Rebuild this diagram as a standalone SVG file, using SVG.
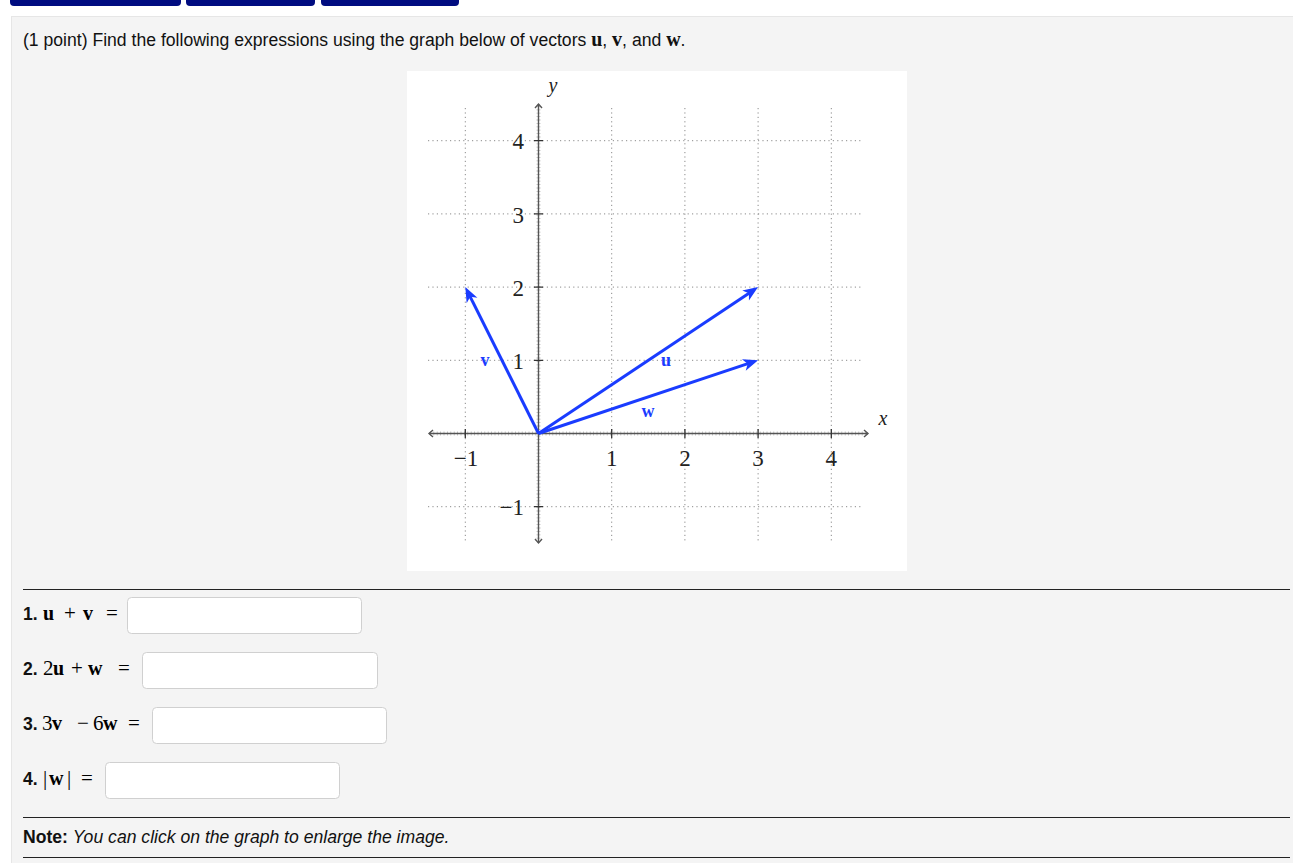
<svg xmlns="http://www.w3.org/2000/svg" width="1293" height="863" viewBox="0 0 1293 863">
<style>
.sans{font-family:"Liberation Sans",Arial,sans-serif;font-size:17.6px;fill:#111}
.b{font-weight:bold}
.mb{font-family:"Liberation Serif","Times New Roman",serif;font-weight:bold;font-size:20px}
.m{font-family:"Liberation Serif","Times New Roman",serif;font-size:21px}
.tick{font-family:"Liberation Serif","Times New Roman",serif;font-size:23px;fill:#222}
.grid{stroke:#8a8a8a;stroke-width:1;stroke-dasharray:1.2 3.2;fill:none}
.axis{stroke:#555;stroke-width:1.4;fill:none}
.axisx{stroke:#888;stroke-width:4;stroke-dasharray:0.8 2.6;fill:none;opacity:0.6}
.tk{stroke:#333;stroke-width:1.3}
.vec{stroke:#1a3cff;stroke-width:3;fill:none;marker-end:url(#ah)}
.vl{font-family:"Liberation Serif","Times New Roman",serif;font-weight:bold;font-size:18px;fill:#1a3cff;text-anchor:middle}
.box{fill:#fff;stroke:#d0d0d0;stroke-width:1}
.rule{stroke:#222;stroke-width:1}
</style>
<defs>
<marker id="ah" viewBox="-10 -7 17 14" refX="0" refY="0" markerWidth="17" markerHeight="14" markerUnits="userSpaceOnUse" orient="auto">
<path d="M6,0 L-9,-6 L-5,0 L-9,6 Z" fill="#1a3cff"/>
</marker>
</defs>
<rect x="0" y="0" width="1293" height="863" fill="#fff"/>
<g id="tabs" fill="#000c80">
<rect x="10" y="-6" width="171" height="12" rx="4"/>
<rect x="186" y="-6" width="129" height="12" rx="4"/>
<rect x="321" y="-6" width="138" height="12" rx="4"/>
</g>
<rect id="panel" x="11.5" y="16.5" width="1290" height="860" fill="#f4f4f4" stroke="#e6e6e6"/>
<text id="header" class="sans" x="23" y="46">(1 point) Find the following expressions using the graph below of vectors <tspan class="mb" font-size="19.5">u</tspan>, <tspan class="mb" font-size="19.5">v</tspan>, and <tspan class="mb" font-size="19.5">w</tspan>.</text>
<g id="graph">
<rect x="407" y="71" width="500" height="500" fill="#fff"/>
<g id="grid">
<path class="grid" d="M428,140.7H863M428,213.9H863M428,287.1H863M428,360.3H863M428,506.7H863"/>
<path class="grid" d="M465.3,108V543M611.7,108V543M684.9,108V543M758.1,108V543M831.3,108V543"/>
</g>
<g id="axes">
<path class="axisx" d="M430,433.5H866M538.5,106V541"/>
<path class="axis" d="M429,433.5H868M538.5,104V543"/>
<path class="axis" d="M433,430L429,433.5L433,437M864,430L868,433.5L864,437M535,108L538.5,104L542,108M535,539L538.5,543L542,539"/>
<path class="tk" d="M465.3,429V438M611.7,429V438M684.9,429V438M758.1,429V438M831.3,429V438M534,140.7H543M534,213.9H543M534,287.1H543M534,360.3H543M534,506.7H543"/>
</g>
<g id="ticklabels" class="tick">
<text x="466" y="465.5" text-anchor="middle">−1</text>
<text x="611.7" y="465.5" text-anchor="middle">1</text>
<text x="684.9" y="465.5" text-anchor="middle">2</text>
<text x="758.1" y="465.5" text-anchor="middle">3</text>
<text x="831.3" y="465.5" text-anchor="middle">4</text>
<text x="524" y="149" text-anchor="end">4</text>
<text x="524" y="222.5" text-anchor="end">3</text>
<text x="524" y="295.5" text-anchor="end">2</text>
<text x="524" y="369" text-anchor="end">1</text>
<text x="524" y="515" text-anchor="end">−1</text>
<text x="553" y="92" text-anchor="middle" font-style="italic" font-size="20">y</text>
<text x="883" y="425" text-anchor="middle" font-style="italic" font-size="20">x</text>
</g>
<g id="vectors">
<line id="u" class="vec" x1="538.5" y1="433.5" x2="753.1" y2="290.4"/>
<line id="v" class="vec" x1="538.5" y1="433.5" x2="468" y2="292.4"/>
<line id="w" class="vec" x1="538.5" y1="433.5" x2="752.4" y2="362.2"/>
</g>
<g id="veclabels">
<text class="vl" x="485" y="366">v</text>
<text class="vl" x="666" y="366">u</text>
<text class="vl" x="648" y="417">w</text>
</g>
</g>
<line class="rule" x1="23" y1="589.5" x2="1290" y2="589.5"/>
<g id="q1">
<text class="sans b" x="23" y="620">1.</text>
<text class="mb" x="43" y="620">u</text><text class="m" x="64" y="620">+</text><text class="mb" x="83" y="620">v</text><text class="m" x="106" y="620">=</text>
<rect class="box" x="127.5" y="597.5" width="234" height="36" rx="4"/>
</g>
<g id="q2">
<text class="sans b" x="23" y="675">2.</text>
<text class="m" x="43" y="675">2</text><text class="mb" x="53" y="675">u</text><text class="m" x="71" y="675">+</text><text class="mb" x="88" y="675">w</text><text class="m" x="118" y="675">=</text>
<rect class="box" x="142.5" y="652.5" width="235" height="36" rx="4"/>
</g>
<g id="q3">
<text class="sans b" x="23" y="730">3.</text>
<text class="m" x="42" y="730">3</text><text class="mb" x="52" y="730">v</text><text class="m" x="77" y="730">−</text><text class="m" x="93" y="730">6</text><text class="mb" x="103" y="730">w</text><text class="m" x="128" y="730">=</text>
<rect class="box" x="152.5" y="707.5" width="234" height="36" rx="4"/>
</g>
<g id="q4">
<text class="sans b" x="23" y="785">4.</text>
<text class="m" x="43" y="785">|</text><text class="mb" x="49" y="785">w</text><text class="m" x="67" y="785">|</text><text class="m" x="81" y="785">=</text>
<rect class="box" x="105.5" y="762.5" width="234" height="36" rx="4"/>
</g>
<line class="rule" x1="23" y1="817.5" x2="1290" y2="817.5"/>
<text id="note" class="sans" x="23" y="843"><tspan class="b">Note:</tspan> <tspan font-style="italic">You can click on the graph to enlarge the image.</tspan></text>
<line class="rule" x1="23" y1="857.5" x2="1290" y2="857.5"/>
</svg>
